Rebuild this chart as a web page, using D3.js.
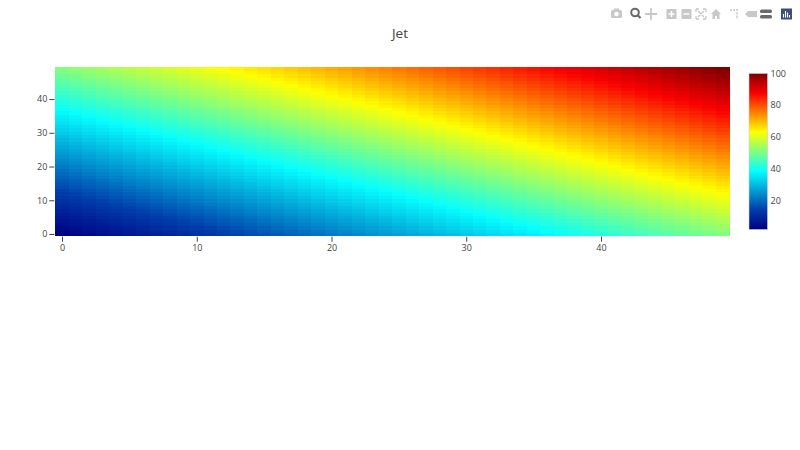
<!DOCTYPE html>
<html><head><meta charset="utf-8">
<script src="https://cdn.jsdelivr.net/npm/d3@7"></script>
<style>body{margin:0;background:#fff;}svg{display:block;font-family:"Open Sans",sans-serif;}</style>
</head><body>
<svg id="c" width="800" height="450"></svg>
<script>
const title = "Jet";
const xValues = [0,1,2,3,4,5,6,7,8,9,10,11,12,13,14,15,16,17,18,19,20,21,22,23,24,25,26,27,28,29,30,31,32,33,34,35,36,37,38,39,40,41,42,43,44,45,46,47,48,49];
const yValues = [0,1,2,3,4,5,6,7,8,9,10,11,12,13,14,15,16,17,18,19,20,21,22,23,24,25,26,27,28,29,30,31,32,33,34,35,36,37,38,39,40,41,42,43,44,45,46,47,48,49];
const xTicks = [0,10,20,30,40];
const yTicks = [0,10,20,30,40];
const colorbarTicks = [20,40,60,80,100];
const zRows = [
[2,3,4,5,6,7,8,9,10,11,12,13,14,15,16,17,18,19,20,21,22,23,24,25,26,27,28,29,30,31,32,33,34,35,36,37,38,39,40,41,42,43,44,45,46,47,48,49,50,51],
[3,4,5,6,7,8,9,10,11,12,13,14,15,16,17,18,19,20,21,22,23,24,25,26,27,28,29,30,31,32,33,34,35,36,37,38,39,40,41,42,43,44,45,46,47,48,49,50,51,52],
[4,5,6,7,8,9,10,11,12,13,14,15,16,17,18,19,20,21,22,23,24,25,26,27,28,29,30,31,32,33,34,35,36,37,38,39,40,41,42,43,44,45,46,47,48,49,50,51,52,53],
[5,6,7,8,9,10,11,12,13,14,15,16,17,18,19,20,21,22,23,24,25,26,27,28,29,30,31,32,33,34,35,36,37,38,39,40,41,42,43,44,45,46,47,48,49,50,51,52,53,54],
[6,7,8,9,10,11,12,13,14,15,16,17,18,19,20,21,22,23,24,25,26,27,28,29,30,31,32,33,34,35,36,37,38,39,40,41,42,43,44,45,46,47,48,49,50,51,52,53,54,55],
[7,8,9,10,11,12,13,14,15,16,17,18,19,20,21,22,23,24,25,26,27,28,29,30,31,32,33,34,35,36,37,38,39,40,41,42,43,44,45,46,47,48,49,50,51,52,53,54,55,56],
[8,9,10,11,12,13,14,15,16,17,18,19,20,21,22,23,24,25,26,27,28,29,30,31,32,33,34,35,36,37,38,39,40,41,42,43,44,45,46,47,48,49,50,51,52,53,54,55,56,57],
[9,10,11,12,13,14,15,16,17,18,19,20,21,22,23,24,25,26,27,28,29,30,31,32,33,34,35,36,37,38,39,40,41,42,43,44,45,46,47,48,49,50,51,52,53,54,55,56,57,58],
[10,11,12,13,14,15,16,17,18,19,20,21,22,23,24,25,26,27,28,29,30,31,32,33,34,35,36,37,38,39,40,41,42,43,44,45,46,47,48,49,50,51,52,53,54,55,56,57,58,59],
[11,12,13,14,15,16,17,18,19,20,21,22,23,24,25,26,27,28,29,30,31,32,33,34,35,36,37,38,39,40,41,42,43,44,45,46,47,48,49,50,51,52,53,54,55,56,57,58,59,60],
[12,13,14,15,16,17,18,19,20,21,22,23,24,25,26,27,28,29,30,31,32,33,34,35,36,37,38,39,40,41,42,43,44,45,46,47,48,49,50,51,52,53,54,55,56,57,58,59,60,61],
[13,14,15,16,17,18,19,20,21,22,23,24,25,26,27,28,29,30,31,32,33,34,35,36,37,38,39,40,41,42,43,44,45,46,47,48,49,50,51,52,53,54,55,56,57,58,59,60,61,62],
[14,15,16,17,18,19,20,21,22,23,24,25,26,27,28,29,30,31,32,33,34,35,36,37,38,39,40,41,42,43,44,45,46,47,48,49,50,51,52,53,54,55,56,57,58,59,60,61,62,63],
[15,16,17,18,19,20,21,22,23,24,25,26,27,28,29,30,31,32,33,34,35,36,37,38,39,40,41,42,43,44,45,46,47,48,49,50,51,52,53,54,55,56,57,58,59,60,61,62,63,64],
[16,17,18,19,20,21,22,23,24,25,26,27,28,29,30,31,32,33,34,35,36,37,38,39,40,41,42,43,44,45,46,47,48,49,50,51,52,53,54,55,56,57,58,59,60,61,62,63,64,65],
[17,18,19,20,21,22,23,24,25,26,27,28,29,30,31,32,33,34,35,36,37,38,39,40,41,42,43,44,45,46,47,48,49,50,51,52,53,54,55,56,57,58,59,60,61,62,63,64,65,66],
[18,19,20,21,22,23,24,25,26,27,28,29,30,31,32,33,34,35,36,37,38,39,40,41,42,43,44,45,46,47,48,49,50,51,52,53,54,55,56,57,58,59,60,61,62,63,64,65,66,67],
[19,20,21,22,23,24,25,26,27,28,29,30,31,32,33,34,35,36,37,38,39,40,41,42,43,44,45,46,47,48,49,50,51,52,53,54,55,56,57,58,59,60,61,62,63,64,65,66,67,68],
[20,21,22,23,24,25,26,27,28,29,30,31,32,33,34,35,36,37,38,39,40,41,42,43,44,45,46,47,48,49,50,51,52,53,54,55,56,57,58,59,60,61,62,63,64,65,66,67,68,69],
[21,22,23,24,25,26,27,28,29,30,31,32,33,34,35,36,37,38,39,40,41,42,43,44,45,46,47,48,49,50,51,52,53,54,55,56,57,58,59,60,61,62,63,64,65,66,67,68,69,70],
[22,23,24,25,26,27,28,29,30,31,32,33,34,35,36,37,38,39,40,41,42,43,44,45,46,47,48,49,50,51,52,53,54,55,56,57,58,59,60,61,62,63,64,65,66,67,68,69,70,71],
[23,24,25,26,27,28,29,30,31,32,33,34,35,36,37,38,39,40,41,42,43,44,45,46,47,48,49,50,51,52,53,54,55,56,57,58,59,60,61,62,63,64,65,66,67,68,69,70,71,72],
[24,25,26,27,28,29,30,31,32,33,34,35,36,37,38,39,40,41,42,43,44,45,46,47,48,49,50,51,52,53,54,55,56,57,58,59,60,61,62,63,64,65,66,67,68,69,70,71,72,73],
[25,26,27,28,29,30,31,32,33,34,35,36,37,38,39,40,41,42,43,44,45,46,47,48,49,50,51,52,53,54,55,56,57,58,59,60,61,62,63,64,65,66,67,68,69,70,71,72,73,74],
[26,27,28,29,30,31,32,33,34,35,36,37,38,39,40,41,42,43,44,45,46,47,48,49,50,51,52,53,54,55,56,57,58,59,60,61,62,63,64,65,66,67,68,69,70,71,72,73,74,75],
[27,28,29,30,31,32,33,34,35,36,37,38,39,40,41,42,43,44,45,46,47,48,49,50,51,52,53,54,55,56,57,58,59,60,61,62,63,64,65,66,67,68,69,70,71,72,73,74,75,76],
[28,29,30,31,32,33,34,35,36,37,38,39,40,41,42,43,44,45,46,47,48,49,50,51,52,53,54,55,56,57,58,59,60,61,62,63,64,65,66,67,68,69,70,71,72,73,74,75,76,77],
[29,30,31,32,33,34,35,36,37,38,39,40,41,42,43,44,45,46,47,48,49,50,51,52,53,54,55,56,57,58,59,60,61,62,63,64,65,66,67,68,69,70,71,72,73,74,75,76,77,78],
[30,31,32,33,34,35,36,37,38,39,40,41,42,43,44,45,46,47,48,49,50,51,52,53,54,55,56,57,58,59,60,61,62,63,64,65,66,67,68,69,70,71,72,73,74,75,76,77,78,79],
[31,32,33,34,35,36,37,38,39,40,41,42,43,44,45,46,47,48,49,50,51,52,53,54,55,56,57,58,59,60,61,62,63,64,65,66,67,68,69,70,71,72,73,74,75,76,77,78,79,80],
[32,33,34,35,36,37,38,39,40,41,42,43,44,45,46,47,48,49,50,51,52,53,54,55,56,57,58,59,60,61,62,63,64,65,66,67,68,69,70,71,72,73,74,75,76,77,78,79,80,81],
[33,34,35,36,37,38,39,40,41,42,43,44,45,46,47,48,49,50,51,52,53,54,55,56,57,58,59,60,61,62,63,64,65,66,67,68,69,70,71,72,73,74,75,76,77,78,79,80,81,82],
[34,35,36,37,38,39,40,41,42,43,44,45,46,47,48,49,50,51,52,53,54,55,56,57,58,59,60,61,62,63,64,65,66,67,68,69,70,71,72,73,74,75,76,77,78,79,80,81,82,83],
[35,36,37,38,39,40,41,42,43,44,45,46,47,48,49,50,51,52,53,54,55,56,57,58,59,60,61,62,63,64,65,66,67,68,69,70,71,72,73,74,75,76,77,78,79,80,81,82,83,84],
[36,37,38,39,40,41,42,43,44,45,46,47,48,49,50,51,52,53,54,55,56,57,58,59,60,61,62,63,64,65,66,67,68,69,70,71,72,73,74,75,76,77,78,79,80,81,82,83,84,85],
[37,38,39,40,41,42,43,44,45,46,47,48,49,50,51,52,53,54,55,56,57,58,59,60,61,62,63,64,65,66,67,68,69,70,71,72,73,74,75,76,77,78,79,80,81,82,83,84,85,86],
[38,39,40,41,42,43,44,45,46,47,48,49,50,51,52,53,54,55,56,57,58,59,60,61,62,63,64,65,66,67,68,69,70,71,72,73,74,75,76,77,78,79,80,81,82,83,84,85,86,87],
[39,40,41,42,43,44,45,46,47,48,49,50,51,52,53,54,55,56,57,58,59,60,61,62,63,64,65,66,67,68,69,70,71,72,73,74,75,76,77,78,79,80,81,82,83,84,85,86,87,88],
[40,41,42,43,44,45,46,47,48,49,50,51,52,53,54,55,56,57,58,59,60,61,62,63,64,65,66,67,68,69,70,71,72,73,74,75,76,77,78,79,80,81,82,83,84,85,86,87,88,89],
[41,42,43,44,45,46,47,48,49,50,51,52,53,54,55,56,57,58,59,60,61,62,63,64,65,66,67,68,69,70,71,72,73,74,75,76,77,78,79,80,81,82,83,84,85,86,87,88,89,90],
[42,43,44,45,46,47,48,49,50,51,52,53,54,55,56,57,58,59,60,61,62,63,64,65,66,67,68,69,70,71,72,73,74,75,76,77,78,79,80,81,82,83,84,85,86,87,88,89,90,91],
[43,44,45,46,47,48,49,50,51,52,53,54,55,56,57,58,59,60,61,62,63,64,65,66,67,68,69,70,71,72,73,74,75,76,77,78,79,80,81,82,83,84,85,86,87,88,89,90,91,92],
[44,45,46,47,48,49,50,51,52,53,54,55,56,57,58,59,60,61,62,63,64,65,66,67,68,69,70,71,72,73,74,75,76,77,78,79,80,81,82,83,84,85,86,87,88,89,90,91,92,93],
[45,46,47,48,49,50,51,52,53,54,55,56,57,58,59,60,61,62,63,64,65,66,67,68,69,70,71,72,73,74,75,76,77,78,79,80,81,82,83,84,85,86,87,88,89,90,91,92,93,94],
[46,47,48,49,50,51,52,53,54,55,56,57,58,59,60,61,62,63,64,65,66,67,68,69,70,71,72,73,74,75,76,77,78,79,80,81,82,83,84,85,86,87,88,89,90,91,92,93,94,95],
[47,48,49,50,51,52,53,54,55,56,57,58,59,60,61,62,63,64,65,66,67,68,69,70,71,72,73,74,75,76,77,78,79,80,81,82,83,84,85,86,87,88,89,90,91,92,93,94,95,96],
[48,49,50,51,52,53,54,55,56,57,58,59,60,61,62,63,64,65,66,67,68,69,70,71,72,73,74,75,76,77,78,79,80,81,82,83,84,85,86,87,88,89,90,91,92,93,94,95,96,97],
[49,50,51,52,53,54,55,56,57,58,59,60,61,62,63,64,65,66,67,68,69,70,71,72,73,74,75,76,77,78,79,80,81,82,83,84,85,86,87,88,89,90,91,92,93,94,95,96,97,98],
[50,51,52,53,54,55,56,57,58,59,60,61,62,63,64,65,66,67,68,69,70,71,72,73,74,75,76,77,78,79,80,81,82,83,84,85,86,87,88,89,90,91,92,93,94,95,96,97,98,99],
[51,52,53,54,55,56,57,58,59,60,61,62,63,64,65,66,67,68,69,70,71,72,73,74,75,76,77,78,79,80,81,82,83,84,85,86,87,88,89,90,91,92,93,94,95,96,97,98,99,100]
];
const jetStops = [0,0.125,0.375,0.625,0.875,1];
const jetColors = ["rgb(0,0,131)","rgb(0,60,170)","rgb(5,255,255)","rgb(255,255,0)","rgb(250,0,0)","rgb(128,0,0)"];

const svg = d3.select("#c");
const ml = 55.3, mr = 729, mt = 67, mb = 235.7;

const allZ = zRows.flat();
const zMin = d3.min(allZ), zMax = d3.max(allZ);
const frac = d3.scaleLinear().domain([zMin, zMax]).range([0,1]);
const jet = d3.scaleLinear().domain(jetStops).range(jetColors).interpolate(d3.interpolateRgb).clamp(true);
const color = v => jet(frac(v));

const x = d3.scaleLinear().domain([d3.min(xValues)-0.5, d3.max(xValues)+0.5]).range([ml, mr]);
const y = d3.scaleLinear().domain([d3.min(yValues)-0.5, d3.max(yValues)+0.5]).range([mb, mt]);

// title
svg.append("text").attr("x",400).attr("y",38).attr("text-anchor","middle")
  .attr("font-size",13.5).attr("fill","#444").text(title);

// heatmap cells
const cells = [];
zRows.forEach((row, j) => row.forEach((v, i) => cells.push({x:xValues[i], y:yValues[j], v})));
svg.append("g").attr("shape-rendering","crispEdges").selectAll("rect").data(cells).join("rect")
  .attr("x", d => x(d.x-0.5))
  .attr("y", d => y(d.y+0.5))
  .attr("width", d => x(d.x+0.5)-x(d.x-0.5)+0.6)
  .attr("height", d => y(d.y-0.5)-y(d.y+0.5)+0.6)
  .attr("fill", d => color(d.v));

// axes
const xAxis = svg.append("g").attr("transform",`translate(0,${mb+1})`)
  .call(d3.axisBottom(x).tickValues(xTicks).tickSize(5).tickSizeOuter(0).tickPadding(3));
const yAxis = svg.append("g").attr("transform",`translate(${ml-1},0)`)
  .call(d3.axisLeft(y).tickValues(yTicks).tickSize(5).tickSizeOuter(0).tickPadding(2));
[xAxis,yAxis].forEach(a=>{
  a.select(".domain").remove();
  a.selectAll("line").attr("stroke","#444");
  a.selectAll("text").attr("fill","#444").attr("font-size",9).attr("font-family","'Open Sans',sans-serif");
});

// colorbar
const cbX = 749, cbW = 18.5, cbTop = 73.5, cbBot = 229.5;
const cbScale = d3.scaleLinear().domain([zMin, zMax]).range([cbBot, cbTop]);
const defs = svg.append("defs");
const grad = defs.append("linearGradient").attr("id","jetg").attr("x1",0).attr("y1",1).attr("x2",0).attr("y2",0);
grad.selectAll("stop").data(jetStops).join("stop")
  .attr("offset", d => d).attr("stop-color", (d,i) => jetColors[i]);
svg.append("rect").attr("x",cbX).attr("y",cbTop).attr("width",cbW).attr("height",cbBot-cbTop)
  .attr("fill","url(#jetg)").attr("stroke","#ccc").attr("stroke-width",0.6);
svg.append("g").selectAll("text").data(colorbarTicks).join("text")
  .attr("x", cbX+cbW+3).attr("y", d => cbScale(d)).attr("dy","0.35em")
  .attr("font-size",9).attr("fill","#444").text(d => d);

// modebar (approximate icons)
const mb_ = svg.append("g").attr("class","modebar");
const grey = "#c8c8c8", dark = "#6a6a6a";
// camera
mb_.append("rect").attr("x",611).attr("y",10).attr("width",11).attr("height",8).attr("rx",1.5).attr("fill",grey);
mb_.append("rect").attr("x",614).attr("y",8.5).attr("width",5).attr("height",2).attr("fill",grey);
mb_.append("circle").attr("cx",616.5).attr("cy",14).attr("r",2.3).attr("fill","#fff");
// zoom magnifier (active)
mb_.append("circle").attr("cx",635).attr("cy",12.5).attr("r",3.8).attr("fill","none").attr("stroke",dark).attr("stroke-width",2);
mb_.append("line").attr("x1",637.5).attr("y1",15).attr("x2",640.5).attr("y2",18).attr("stroke",dark).attr("stroke-width",2.2);
// pan
mb_.append("path").attr("d","M651,8 V20 M645,14 H657").attr("stroke",grey).attr("stroke-width",1.8);
// zoom in / zoom out
mb_.append("rect").attr("x",666.5).attr("y",9).attr("width",10).attr("height",10).attr("rx",1).attr("fill",grey);
mb_.append("path").attr("d","M668.5,14 H674.5 M671.5,11 V17").attr("stroke","#fff").attr("stroke-width",1.5);
mb_.append("rect").attr("x",681.5).attr("y",9).attr("width",10).attr("height",10).attr("rx",1).attr("fill",grey);
mb_.append("path").attr("d","M683.5,14 H689.5").attr("stroke","#fff").attr("stroke-width",1.5);
// autoscale
mb_.append("path").attr("d","M696,9 h3 M696,9 v3 M706,9 h-3 M706,9 v3 M696,19 h3 M696,19 v-3 M706,19 h-3 M706,19 v-3 M698,11 L704,17 M704,11 L698,17")
  .attr("stroke",grey).attr("stroke-width",1.3).attr("fill","none");
// home
mb_.append("path").attr("d","M711,14 L716,9 L721,14 L719.5,14 L719.5,19 L717,19 L717,16 L715,16 L715,19 L712.5,19 L712.5,14 Z").attr("fill",grey);
// spikelines
mb_.append("path").attr("d","M730,10 H735 M737,9 V19").attr("stroke",grey).attr("stroke-width",1.6).attr("stroke-dasharray","2,1.2");
// compare hover
mb_.append("path").attr("d","M745,14 L748,11 H757 V17 H748 Z").attr("fill",grey);
// closest hover (active)
mb_.append("rect").attr("x",760).attr("y",9.5).attr("width",12).attr("height",3.5).attr("rx",1.5).attr("fill",dark);
mb_.append("rect").attr("x",760).attr("y",15).attr("width",12).attr("height",3.5).attr("rx",1.5).attr("fill",dark);
// plotly logo
mb_.append("rect").attr("x",781).attr("y",8.5).attr("width",11).attr("height",11).attr("fill","#3f4f75");
mb_.append("path").attr("d","M783.5,17.5 V14 M785.5,17.5 V11 M787.5,17.5 V12.5 M789.5,17.5 V15").attr("stroke","#fff").attr("stroke-width",1.1);
</script>
</body></html>
